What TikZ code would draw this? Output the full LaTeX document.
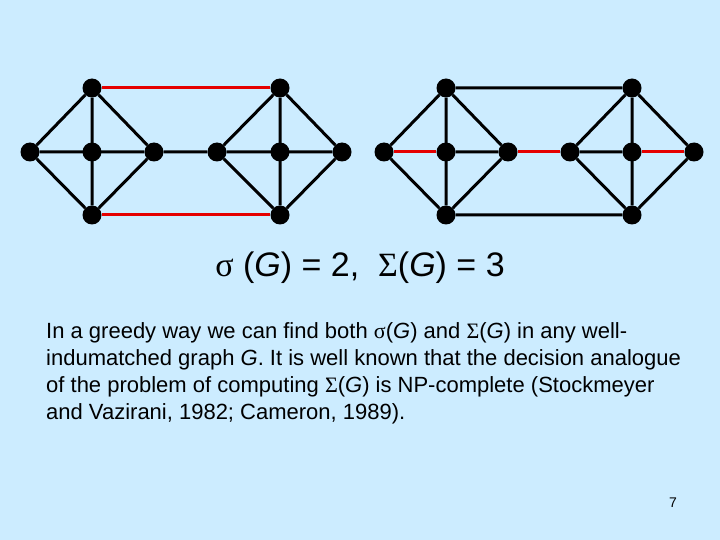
\documentclass[tikz,border=0pt]{standalone}
\usepackage{fontspec}
\setmainfont{Liberation Sans}
\newfontfamily\grk{Liberation Serif}
\begin{document}
\begin{tikzpicture}[x=1pt,y=-1pt,
  v/.style={circle,fill=black,inner sep=0pt,minimum size=19pt},
  e/.style={line width=3pt,black},
  r/.style={line width=3pt,red!90!black}]
\fill[fill={rgb,255:red,204;green,236;blue,255}] (0,0) rectangle (720,540);
\useasboundingbox (0,0) rectangle (720,540);
% left graph
\foreach \n/\x/\y in {a/92/88,b/280/88,c/30/152,d/92/152,f/154/152,g/217/152,h/280/152,i/342/152,j/92/215,k/280/215}
  \node[v] (L\n) at (\x,\y) {};
\draw[r] (La)--(Lb); \draw[r] (Lj)--(Lk);
\draw[e] (La)--(Lc) (La)--(Lf) (La)--(Lj) (Lc)--(Lf) (Lc)--(Lj) (Lf)--(Lj) (Lf)--(Lg)
 (Lb)--(Lg) (Lb)--(Li) (Lb)--(Lk) (Lg)--(Li) (Lg)--(Lk) (Li)--(Lk);
% right graph
\foreach \n/\x/\y in {a/446/88,b/632/88,c/384/152,d/446/152,f/508/152,g/570/152,h/632/152,i/694/152,j/446/215,k/632/215}
  \node[v] (R\n) at (\x,\y) {};
\draw[e] (Ra)--(Rb) (Rj)--(Rk) (Ra)--(Rc) (Ra)--(Rf) (Ra)--(Rj) (Rc)--(Rj) (Rf)--(Rj)
 (Rd)--(Rf) (Rg)--(Rh) (Rb)--(Rg) (Rb)--(Ri) (Rb)--(Rk) (Rg)--(Rk) (Ri)--(Rk);
\draw[r] (Rc)--(Rd) (Rf)--(Rg) (Rh)--(Ri);
% texts
\node[font=\fontsize{34}{40}\selectfont] (t) at (360,268) {{\grk σ} (\textit{G}) = 2,\ \ {\grk Σ}(\textit{G}) = 3};
\node[anchor=north west,align=left,font=\fontsize{22}{27}\selectfont,inner sep=0pt] (p) at (46,322)
{In a greedy way we can find both {\grk σ}(\textit{G}) and {\grk Σ}(\textit{G}) in any well-\\
indumatched graph \textit{G}. It is well known that the decision analogue\\
of the problem of computing {\grk Σ}(\textit{G}) is NP-complete (Stockmeyer\\
and Vazirani, 1982; Cameron, 1989).};
\node[font=\fontsize{14}{16}\selectfont] (n) at (673,503) {7};
\end{tikzpicture}
\end{document}
